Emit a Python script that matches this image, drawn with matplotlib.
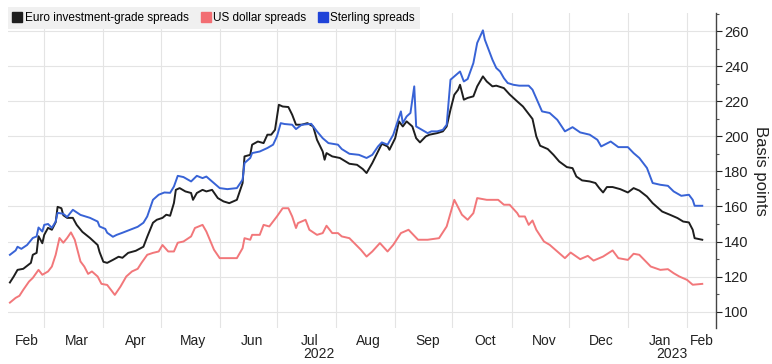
import pandas as pd
import matplotlib
matplotlib.use('Agg')
import matplotlib.pyplot as plt
import matplotlib.transforms as mtransforms
from matplotlib.ticker import MultipleLocator
from matplotlib.lines import Line2D

# day offsets counted from 1 Feb 2022, values in basis points
start = pd.Timestamp('2022-02-01')

euro_day = [10, 12, 14, 17, 21, 22, 24, 25, 27, 28, 30, 32, 34, 35, 37, 38, 40, 43, 45, 48,
            52, 56, 57, 59, 61, 64, 67, 69, 72, 76, 80, 82, 85, 87, 90, 92, 94, 96, 97, 99,
            102, 105, 106, 108, 111, 113, 116, 119, 122, 125, 129, 132, 133, 136, 137, 140, 143, 145, 147, 149,
            151, 153, 156, 158, 160, 163, 166, 169, 171, 174, 175, 176, 179, 183, 186, 188, 192, 195, 197, 200,
            203, 205, 208, 209, 212, 214, 216, 218, 221, 223, 225, 228, 230, 234, 237, 239, 241, 243, 245, 246,
            248, 250, 253, 255, 258, 260, 263, 265, 269, 272, 276, 279, 283, 284, 286, 288, 292, 295, 298, 302,
            305, 307, 310, 314, 317, 319, 321, 323, 326, 330, 334, 337, 340, 344, 347, 352, 356, 360, 363, 366,
            368, 369, 373]
euro_bp = [116.6, 120, 123.8, 124.4, 127.8, 132.4, 133.5, 143, 139, 143.8, 147.8, 146.7, 151, 159.8, 159, 155, 153.5, 153.5, 149.5, 145.5,
           142, 138, 134, 128.4, 127.8, 129.5, 131.3, 130.7, 133.5, 134.7, 137, 142.7, 150.7, 152.4, 153.5, 155.3, 154.7, 162, 169.5, 170.5,
           168.6, 167.7, 163.8, 167.7, 169.5, 168.6, 169.5, 164.8, 162.9, 161.9, 163.8, 173.4, 188.6, 189.5, 195.3, 197.1, 196.2, 201, 201, 203.8,
           218.1, 217.1, 216.8, 212.4, 206.7, 206.7, 207.6, 205.7, 198.1, 191.4, 186.7, 190.5, 188.6, 187.7, 185.7, 184.4, 183.8, 181.4, 179.1, 184.8,
           191.4, 195.8, 194.3, 192.4, 199, 208.6, 205.7, 208.6, 205.7, 199, 196.6, 200, 201, 201.9, 202.9, 205.7, 215.3, 223.8, 226.7, 229.5,
           221, 222, 222.9, 228.6, 234.3, 231.4, 228.6, 229, 227.6, 224, 220, 217.1, 211.4, 210, 200, 194.7, 192.8, 189.5, 185.7, 182.5,
           181.9, 177.1, 174.9, 174.3, 173.4, 170.5, 168, 171.1, 171.1, 169.9, 168, 170.5, 169.1, 165.7, 161.9, 157.1, 155.3, 153.4, 151.4, 150.9,
           146.7, 141.9, 141]

usd_day = [10, 13, 15, 17, 20, 22, 25, 27, 30, 32, 34, 36, 38, 40, 42, 44, 47, 49, 51, 53,
           56, 58, 61, 65, 68, 71, 74, 77, 79, 82, 85, 88, 90, 93, 96, 98, 101, 105, 107, 111,
           113, 117, 120, 124, 129, 132, 133, 136, 137, 141, 143, 146, 150, 153, 156, 158, 160, 161, 165, 167,
           171, 174, 176, 179, 182, 184, 188, 194, 197, 200, 204, 208, 211, 215, 219, 224, 229, 235, 239, 243,
           247, 250, 253, 255, 260, 266, 269, 272, 276, 277, 280, 282, 284, 286, 290, 293, 297, 301, 304, 309,
           313, 316, 321, 326, 329, 334, 337, 340, 346, 351, 355, 358, 361, 365, 368, 373]
usd_bp = [105.1, 107.8, 109, 112.4, 117.1, 119.2, 123.8, 121, 122.9, 125.7, 132.4, 142, 139.3, 142, 145.2, 141, 128.6, 125.7, 121.5, 122.9,
          120, 115.8, 115.2, 109.5, 114.3, 120, 122.9, 124.4, 127.8, 132.4, 133.5, 134.3, 138, 134.3, 134.3, 139.3, 140, 142.9, 147.7, 149.5,
          145.7, 135.3, 130.5, 130.5, 130.5, 136.2, 141.9, 141, 143.8, 143.8, 149.5, 148.6, 154.3, 159, 159, 154.3, 147.7, 150.5, 152.4, 146.7,
          143.8, 144.8, 149, 144.8, 144.8, 142.9, 141.9, 135.3, 131.4, 134.3, 139.1, 134.3, 138.1, 144.8, 146.7, 141, 141, 141.9, 148.6, 163.8,
          155.3, 152.4, 156.2, 164.8, 163.8, 163.8, 161, 161, 156.2, 154.3, 154.3, 149.5, 152, 146.7, 140, 138.1, 134.3, 130.5, 133.7, 129.9,
          131.8, 129.1, 131.4, 134.9, 130.5, 129.5, 133, 132.4, 125.7, 123.8, 124.2, 121.9, 120, 118.1, 115.3, 115.8]

gbp_day = [10, 13, 14, 16, 19, 22, 24, 25, 27, 28, 30, 32, 34, 35, 38, 40, 43, 47, 52, 56,
           57, 60, 61, 64, 66, 69, 73, 77, 80, 82, 85, 88, 91, 94, 96, 98, 101, 105, 108, 111,
           113, 116, 120, 124, 129, 132, 133, 136, 137, 141, 145, 148, 150, 152, 154, 158, 160, 163, 168, 171,
           174, 177, 182, 184, 188, 193, 197, 200, 203, 205, 208, 211, 213, 215, 216, 218, 220, 222, 223, 226,
           229, 231, 234, 237, 239, 241, 243, 246, 248, 250, 253, 255, 258, 259, 261, 263, 265, 267, 269, 271,
           274, 277, 282, 284, 289, 293, 297, 301, 305, 309, 314, 318, 320, 325, 329, 334, 337, 340, 344, 347,
           351, 355, 358, 362, 366, 368, 369, 373]
gbp_bp = [132.4, 134.9, 137, 135.8, 138, 142, 142.9, 148, 145.7, 149.5, 150, 147.8, 151.4, 156.4, 155.8, 154, 158.1, 155.2, 153.5, 151.4,
          148.6, 147.2, 145, 142.7, 143.8, 145, 146.7, 148.4, 150.7, 154.3, 163.8, 166.7, 168, 167.8, 171.4, 177.5, 176.8, 174.3, 177.5, 176.2,
          177.1, 174.3, 170.5, 169.9, 170.5, 175.3, 184.8, 187.7, 190.5, 191.4, 193.4, 195.3, 200, 207.6, 207.1, 206.7, 204.2, 206.7, 207.2, 202.9,
          199, 196.2, 195.3, 192.8, 190.1, 189.5, 187.7, 189.5, 194.3, 196.6, 195.3, 201, 207.6, 214.3, 207.6, 211.4, 213.4, 228.6, 205.7, 203.8,
          201.9, 202.9, 202.9, 203.8, 206.7, 232.4, 234.3, 237.1, 231.4, 232.8, 241.9, 253.4, 260.6, 255.3, 249.5, 243.8, 239.1, 237.1, 233.3, 230.5,
          229.5, 229, 229, 226.7, 214.3, 213.4, 209.5, 202.9, 205.3, 202.3, 201, 198.1, 194.3, 197.1, 193.9, 193.9, 190.5, 187.7, 182, 173.4,
          172.4, 171.8, 168.6, 166.1, 166.7, 163.8, 160.4, 160.4]

month_names = ['Feb', 'Mar', 'Apr', 'May', 'Jun', 'Jul', 'Aug', 'Sep', 'Oct', 'Nov', 'Dec', 'Jan', 'Feb']
year_names = ['2022', '2023']


def to_dates(days):
    return start + pd.to_timedelta(days, unit='D')


plt.rcParams['font.family'] = ['Liberation Sans Narrow', 'Liberation Sans', 'DejaVu Sans']

fig = plt.figure(figsize=(7.72, 3.64), dpi=100)
ax = fig.add_axes([8 / 772, 36 / 364, 708 / 772, 315 / 364])

black = '#1e1e1e'
red = '#f2777a'
blue = '#3863d6'

ax.plot(to_dates(euro_day), euro_bp, color=black, lw=1.4)
ax.plot(to_dates(usd_day), usd_bp, color=red, lw=1.4)
ax.plot(to_dates(gbp_day), gbp_bp, color=blue, lw=1.4)

ax.set_xlim(pd.Timestamp('2022-02-10'), pd.Timestamp('2023-02-16 05:00'))
ax.set_ylim(90.6, 270.5)

# gridlines on month starts, labels in the middle of the months
month_starts = pd.date_range('2022-03-01', '2023-02-01', freq='MS')
label_pos = list(pd.date_range('2022-02-01', '2023-01-01', freq='MS') + pd.Timedelta(days=17))
label_pos[0] = pd.Timestamp('2022-02-20')
label_pos.append(pd.Timestamp('2023-02-09'))
ax.set_xticks(month_starts)
ax.set_xticklabels([])
ax.set_xticks(label_pos, minor=True)
ax.set_xticklabels(month_names, minor=True)
ax.tick_params(axis='x', which='both', length=0, pad=4, labelsize=10, colors='#222222')

ax.yaxis.tick_right()
ax.yaxis.set_label_position('right')
ax.yaxis.set_major_locator(MultipleLocator(20))
ax.yaxis.set_minor_locator(MultipleLocator(10))
ax.tick_params(axis='y', which='major', length=4, width=0.8, pad=2, labelsize=10.5, colors='#222222')
ax.tick_params(axis='y', which='minor', length=2.5, width=0.8, colors='#555555')
ax.set_ylabel('Basis points', rotation=270, labelpad=14, fontsize=12,
              family=['Liberation Sans', 'DejaVu Sans'], color='#222222')

ax.grid(True, which='major', color='#e4e4e4', lw=0.8)
ax.set_axisbelow(True)
for side in ['left', 'top', 'bottom']:
    ax.spines[side].set_visible(False)
ax.spines['right'].set_color('#444444')
ax.spines['right'].set_linewidth(1.0)

trans = mtransforms.blended_transform_factory(ax.transData, ax.transAxes)
ax.text(pd.Timestamp('2022-07-23'), -0.083, year_names[0], transform=trans,
        ha='center', va='center', fontsize=10, color='#222222')
ax.text(pd.Timestamp('2023-01-24'), -0.083, year_names[1], transform=trans,
        ha='center', va='center', fontsize=10, color='#222222')

handles = [Line2D([], [], ls='', marker='s', markersize=6.5, color=c) for c in [black, '#f26d72', '#1f43d8']]
leg = ax.legend(handles, ['Euro investment-grade spreads', 'US dollar spreads', 'Sterling spreads'],
                loc='upper left', bbox_to_anchor=(0.0, 1.02), borderaxespad=0, ncol=3,
                frameon=True, fancybox=False,
                handlelength=0.7, handletextpad=0.25, columnspacing=1.1, borderpad=0.45,
                prop={'family': ['Liberation Sans', 'DejaVu Sans'], 'size': 8.5})
leg.get_frame().set_facecolor('#f0f0f0')
leg.get_frame().set_edgecolor('none')
leg.get_frame().set_alpha(1)

fig.savefig('out.png', dpi=100)
